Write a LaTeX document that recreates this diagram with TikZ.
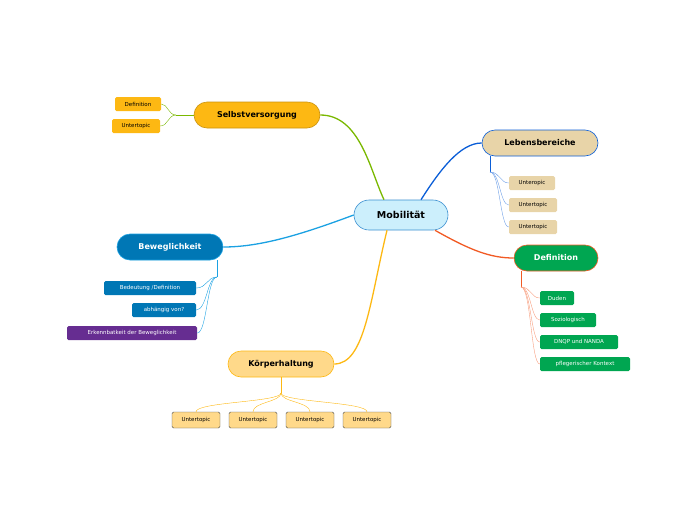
\documentclass[tikz,border=0pt]{standalone}
\usepackage{fontspec}
\setmainfont{DejaVu Sans}
\begin{document}
\begin{tikzpicture}[x=1pt,y=-1pt,
 main/.style={draw=#1,rounded corners=13pt,line width=0.6pt,minimum height=26pt,font=\fontsize{8}{9}\selectfont\bfseries,inner sep=0pt},
 sub/.style={rounded corners=1.5pt,minimum height=14pt,font=\fontsize{5.5}{6}\selectfont,inner sep=0pt},
 conn/.style={line width=1.3pt,#1},
 thin/.style={line width=0.4pt,#1}]
\definecolor{cblue}{HTML}{3A8FD0}
\definecolor{cgreen}{HTML}{7AB800}
\definecolor{cdblue}{HTML}{0B5ED7}
\definecolor{cred}{HTML}{F15A24}
\definecolor{clblue}{HTML}{1BA1E2}
\definecolor{corange}{HTML}{FDB813}
\definecolor{ctan}{HTML}{E8D4A8}
\definecolor{cgr}{HTML}{00A651}
\definecolor{cbw}{HTML}{0077B5}
\definecolor{cpur}{HTML}{662D91}
\definecolor{cyel}{HTML}{FFD98A}
\useasboundingbox (0,0) rectangle (697,520);
\node[main=cblue,fill=cyan!20!white,minimum width=94pt,minimum height=30pt,rounded corners=15pt,font=\fontsize{9.5}{10}\selectfont\bfseries] (m) at (401,215) {Mobilität};
\node[main=corange!80!black,fill=corange,minimum width=126pt] (sv) at (257,115) {Selbstversorgung};
\node[sub,fill=corange,minimum width=46pt] (sv1) at (138,104) {Definition};
\node[sub,fill=corange,minimum width=48pt] (sv2) at (136,126) {Untertopic};
\node[main=cdblue,fill=ctan,minimum width=116pt] (lb) at (540,143) {Lebensbereiche};
\node[sub,fill=ctan,minimum width=46pt] (lb1) at (532,183) {Unteropic};
\node[sub,fill=ctan,minimum width=48pt] (lb2) at (533,205) {Untertopic};
\node[sub,fill=ctan,minimum width=48pt] (lb3) at (533,227) {Untertopic};
\node[main=cred,fill=cgr,text=white,minimum width=84pt] (df) at (556,258) {Definition};
\node[sub,fill=cgr,text=white,minimum width=34pt] (df1) at (557,298) {Duden};
\node[sub,fill=cgr,text=white,minimum width=56pt] (df2) at (568,320) {Soziologisch};
\node[sub,fill=cgr,text=white,minimum width=78pt] (df3) at (579,342) {DNQP und NANDA};
\node[sub,fill=cgr,text=white,minimum width=90pt] (df4) at (585,364) {pflegerischer Kontext};
\node[main=clblue,fill=cbw,text=white,minimum width=106pt] (bw) at (170,247) {Beweglichkeit};
\node[sub,fill=cbw,text=white,minimum width=92pt] (bw1) at (150,288) {Bedeutung /Definition};
\node[sub,fill=cbw,text=white,minimum width=64pt] (bw2) at (164,310) {abhängig von?};
\node[sub,fill=cpur,text=white,minimum width=130pt] (bw3) at (132,333) {Erkennbatkeit der Beweglichkeit};
\node[main=corange,fill=cyel,minimum width=106pt] (kh) at (281,364) {Körperhaltung};
\foreach \i/\x in {1/196,2/253,3/310,4/367}
  \node[sub,draw=black!70,line width=0.4pt,fill=cyel,minimum width=48pt,minimum height=16pt] (kh\i) at (\x,420) {Untertopic};
% main connectors
\draw[conn=cgreen] ([xshift=-17pt]m.north) .. controls (370,170) and (360,115) .. (sv.east);
\draw[conn=cdblue] ([xshift=20pt]m.north) .. controls (440,170) and (460,143) .. (lb.west);
\draw[conn=cred] ([xshift=34pt]m.south) .. controls (470,250) and (490,258) .. (df.west);
\draw[conn=clblue] (m.west) .. controls (300,235) and (260,247) .. (bw.east);
\draw[conn=corange] ([xshift=-14pt]m.south) .. controls (370,300) and (365,364) .. (kh.east);
% sub connectors
\coordinate (svj) at (176,115); \coordinate (svc) at (168,0);
\draw[thin=cgreen] (sv.west) -- (svj);
\foreach \n in {sv1,sv2} \draw[thin=cgreen] (svj) .. controls (168,115) and (svc|-\n.east) .. (\n.east);
\coordinate (lbt) at (490,156); \coordinate (lbj) at (490,172); \coordinate (lbc) at (500,0);
\draw[thin=cdblue] (lbt) -- (lbj);
\foreach \n in {lb1,lb2,lb3} \draw[thin=cdblue!60] (lbj) .. controls (500,172) and (lbc|-\n.west) .. (\n.west);
\coordinate (dft) at (521,271); \coordinate (dfj) at (521,287); \coordinate (dfc) at (531,0);
\draw[thin=cred,line width=1pt] (dft) -- (dfj);
\foreach \n in {df1,df2,df3,df4} \draw[thin=cred!60] (dfj) .. controls (531,287) and (dfc|-\n.west) .. (\n.west);
\coordinate (bwt) at (217,260); \coordinate (bwj) at (217,277); \coordinate (bwc) at (207,0);
\draw[thin=clblue] (bwt) -- (bwj);
\foreach \n in {bw1,bw2,bw3} \draw[thin=clblue] (bwj) .. controls (207,277) and (bwc|-\n.east) .. (\n.east);
\coordinate (khj) at (281,393); \coordinate (khc) at (0,402);
\draw[thin=corange] (kh.south) -- (khj);
\foreach \n in {kh1,kh2,kh3,kh4} \draw[thin=corange] (khj) .. controls (281,402) and (\n.north|-khc) .. (\n.north);
\end{tikzpicture}
\end{document}
